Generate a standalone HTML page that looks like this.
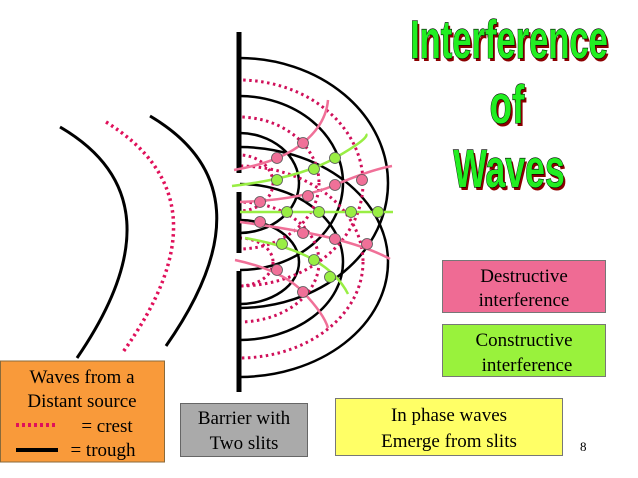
<!DOCTYPE html>
<html><head><meta charset="utf-8"><style>
html,body{margin:0;padding:0;background:#fff}
svg{display:block}
text{font-family:"Liberation Serif",serif}
text.t,text.s{font-family:"Liberation Sans",sans-serif;font-weight:bold}
.t{fill:#22ee22;stroke:#000;stroke-width:1.2px;paint-order:stroke}
.s{fill:#8b0000}
</style></head><body>
<svg width="638" height="478" viewBox="0 0 638 478" xmlns="http://www.w3.org/2000/svg">
<defs>
<clipPath id="r"><rect x="240" y="0" width="400" height="478"/></clipPath>
</defs>
<path d="M60 127 Q185 200 77 358" fill="none" stroke="#000" stroke-width="3"/>
<path d="M106 122 Q232 200 123 352" fill="none" stroke="#e0105a" stroke-width="3.5" stroke-dasharray="2.5 3.5"/>
<path d="M150 116 Q275 190 166 346" fill="none" stroke="#000" stroke-width="3"/>
<g clip-path="url(#r)" fill="none">
<g stroke="#000" stroke-width="2.5">
<ellipse cx="239" cy="183" rx="149" ry="125"/>
<ellipse cx="239" cy="183" rx="104" ry="87"/>
<ellipse cx="239" cy="183" rx="60" ry="50"/>
<ellipse cx="239" cy="262" rx="149" ry="115"/>
<ellipse cx="239" cy="262" rx="104" ry="78"/>
<ellipse cx="239" cy="262" rx="60" ry="42"/>
</g>
<g stroke="#d0105a" stroke-width="3" stroke-dasharray="2.5 3.5">
<ellipse cx="239" cy="183" rx="124" ry="103"/>
<ellipse cx="239" cy="183" rx="80" ry="66"/>
<ellipse cx="239" cy="183" rx="34" ry="28"/>
<ellipse cx="239" cy="262" rx="124" ry="96"/>
<ellipse cx="239" cy="262" rx="80" ry="60"/>
<ellipse cx="239" cy="262" rx="34" ry="24"/>
</g>
</g>
<g stroke="#000" stroke-width="5">
<line x1="239" y1="32" x2="239" y2="173"/>
<line x1="239" y1="192" x2="239" y2="253"/>
<line x1="239" y1="271" x2="239" y2="392"/>
</g>
<g fill="none" stroke-width="2.5">
<path d="M234 170 Q280 162 303 143 T328 100" stroke="#f07098"/>
<path d="M240 202 Q300 200 335 185 T392 166" stroke="#f07098"/>
<path d="M232 186 Q300 178 335 158 T366 134" stroke="#99ee44"/>
<path d="M240 212 L393 212" stroke="#99ee44"/>
<path d="M240 222 Q300 230 335 239 T390 259" stroke="#f07098"/>
<path d="M245 238 Q290 246 314 260 T348 294" stroke="#99ee44"/>
<path d="M235 260 Q282 270 303 292 T328 328" stroke="#f07098"/>
</g>
<g stroke="#555" stroke-width="0.8" fill="#f07098">
<circle cx="277" cy="158" r="5.5"/><circle cx="303" cy="143" r="5.5"/>
<circle cx="308" cy="196" r="5.5"/><circle cx="335" cy="185" r="5.5"/><circle cx="362" cy="180" r="5.5"/>
<circle cx="260" cy="202" r="5.5"/><circle cx="260" cy="222" r="5.5"/><circle cx="303" cy="233" r="5.5"/>
<circle cx="335" cy="239" r="5.5"/><circle cx="367" cy="244" r="5.5"/><circle cx="277" cy="270" r="5.5"/><circle cx="303" cy="292" r="5.5"/>
</g>
<g stroke="#555" stroke-width="0.8" fill="#99ee44">
<circle cx="335" cy="158" r="5.5"/><circle cx="314" cy="169" r="5.5"/><circle cx="277" cy="180" r="5.5"/>
<circle cx="287" cy="212" r="5.5"/><circle cx="319" cy="212" r="5.5"/><circle cx="351" cy="212" r="5.5"/><circle cx="378" cy="212" r="5.5"/>
<circle cx="282" cy="244" r="5.5"/><circle cx="314" cy="260" r="5.5"/><circle cx="330" cy="277" r="5.5"/>
</g>
<g text-anchor="middle" font-size="54">
<g transform="translate(509 58) scale(0.64 1)">
<text class="s" x="3" y="3">Interference</text>
<text class="t" x="0" y="0">Interference</text>
</g>
<g transform="translate(507 123) scale(0.68 1)">
<text class="s" x="3" y="3">of</text>
<text class="t" x="0" y="0">of</text>
</g>
<g transform="translate(509 187) scale(0.66 1)">
<text class="s" x="3" y="3">Waves</text>
<text class="t" x="0" y="0">Waves</text>
</g>
</g>
<rect x="0.5" y="361" width="164" height="101" fill="#f99a3a" stroke="#8a6a3a"/>
<g font-size="19" text-anchor="middle">
<text x="82" y="383">Waves from a</text>
<text x="82" y="407">Distant source</text>
<text x="107" y="432">= crest</text>
<text x="103" y="456">= trough</text>
</g>
<line x1="16" y1="425" x2="58" y2="425" stroke="#e0105a" stroke-width="4" stroke-dasharray="3 3"/>
<line x1="16" y1="450" x2="58" y2="450" stroke="#000" stroke-width="4"/>
<rect x="180.5" y="403.5" width="127" height="53" fill="#aaaaaa" stroke="#666"/>
<g font-size="19" text-anchor="middle">
<text x="244" y="424">Barrier with</text>
<text x="244" y="449">Two slits</text>
</g>
<rect x="335.5" y="398.5" width="227" height="57" fill="#ffff66" stroke="#777"/>
<g font-size="19" text-anchor="middle">
<text x="449" y="421">In phase waves</text>
<text x="449" y="447">Emerge from slits</text>
</g>
<rect x="442.5" y="260.5" width="163" height="52" fill="#ef6b94" stroke="#777"/>
<g font-size="19" text-anchor="middle">
<text x="524" y="282">Destructive</text>
<text x="524" y="306">interference</text>
</g>
<rect x="442.5" y="324.5" width="163" height="52" fill="#99f23c" stroke="#777"/>
<g font-size="19" text-anchor="middle">
<text x="524" y="346">Constructive</text>
<text x="527" y="371">interference</text>
</g>
<text x="580" y="451" font-size="13">8</text>
</svg>
</body></html>
